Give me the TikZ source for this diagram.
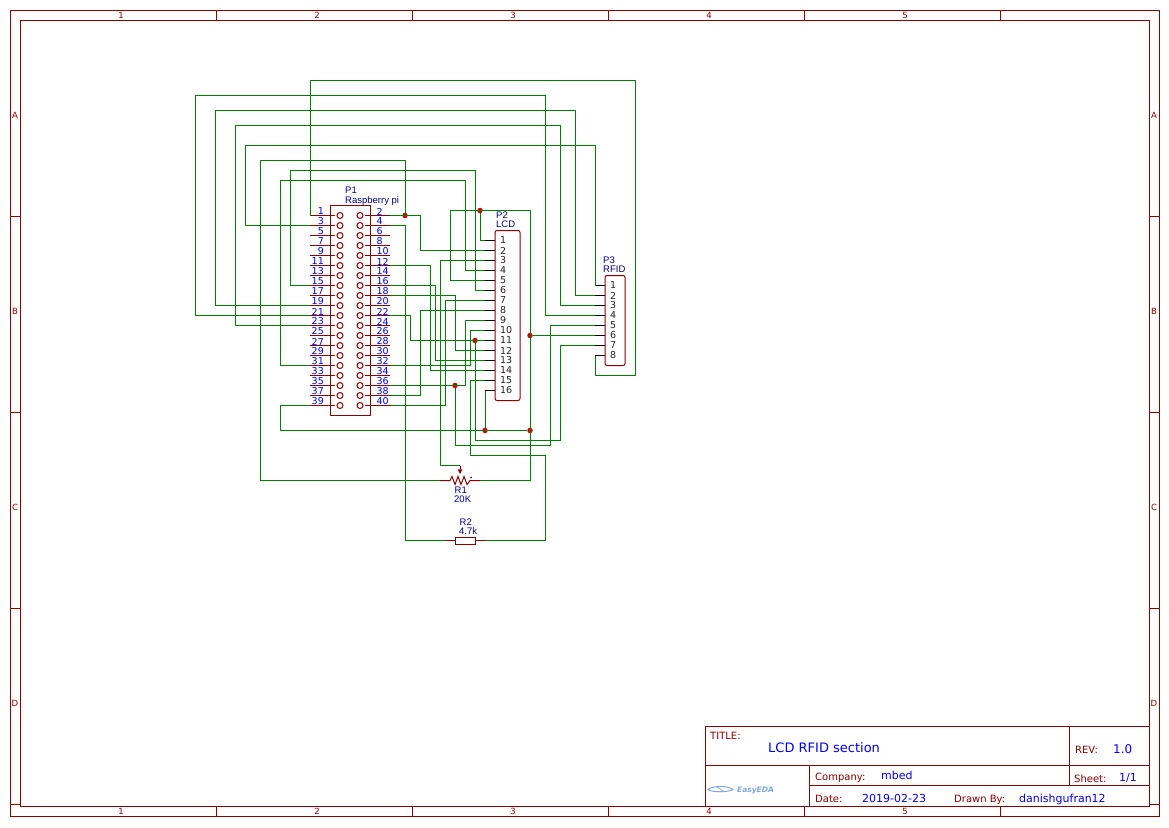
\documentclass[tikz,border=0pt]{standalone}
\usepackage{fontspec}
\setmainfont{DejaVu Sans}
\newfontfamily\labelfont{Liberation Sans}
\usetikzlibrary{arrows.meta}

\definecolor{sheetred}{HTML}{880000}
\definecolor{wiregreen}{HTML}{008000}
\definecolor{refnavy}{HTML}{000080}
\definecolor{pinblue}{HTML}{0000FF}
\definecolor{dotred}{HTML}{CC0000}
\definecolor{logoblue}{HTML}{7FA8E0}

\tikzset{
  wire/.style={draw=wiregreen,line width=1pt},
  frameline/.style={draw=sheetred,line width=1pt},
  partbox/.style={draw=sheetred,line width=1pt,rounded corners=#1},
  partbox/.default=0pt,
  pinline/.style={draw=sheetred,line width=1pt},
  blackpin/.style={draw=black,line width=1pt},
  junction/.style={circle,fill=dotred,inner sep=0pt,minimum size=5.5pt},
  refname/.style={inner sep=0pt,anchor=base west,text=refnavy,font=\labelfont\fontsize{9.5}{9.5}\selectfont},
  pinnum/.style={inner sep=0pt,text=pinblue,font=\fontsize{9.5}{9.5}\selectfont},
  blacknum/.style={inner sep=0pt,anchor=west,text=black!85,font=\fontsize{9.5}{9.5}\selectfont},
  sheetmark/.style={inner sep=0pt,text=sheetred,font=\fontsize{8.5}{8.5}\selectfont},
  blockkey/.style={inner sep=0pt,anchor=base west,text=sheetred,font=\fontsize{10}{10}\selectfont},
  blockval/.style={inner sep=0pt,anchor=base west,text=pinblue,font=\fontsize{11}{11}\selectfont},
}

% One row of the plain numbered pins on a side part.
\NewDocumentCommand{\sidepart}{mmmm}{%
\foreach \n in {1,...,#4} {
  \coordinate (#1n\n) at (#2,#3+10*\n-10);
  \draw[blackpin] (#1n\n) -- ++(10,0);
  \node[blacknum] (#1t\n) at (#2+15,#3+10*\n-10) {\n};
}%
}

\begin{document}
\begin{tikzpicture}[x=1pt,y=-1pt]
\useasboundingbox (0,-0.5) rectangle (1169,826.5);

% Sheet frame.
\draw[frameline] (10,10) rectangle (1159,816);
\draw[frameline] (20,20) rectangle (1149,806);
\foreach \x in {216,412,608,804,1000} {
  \draw[frameline] (\x,10) -- (\x,20);
  \draw[frameline] (\x,806) -- (\x,816);
}
\foreach \y in {216,412,608,804} {
  \draw[frameline] (10,\y) -- (20,\y);
  \draw[frameline] (1149,\y) -- (1159,\y);
}
\foreach \c [count=\i from 0] in {1,...,5} {
  \node[sheetmark] (top\c) at (121+196*\i,15) {\c};
  \node[sheetmark] (bot\c) at (121+196*\i,811) {\c};
}
\foreach \c [count=\i from 0] in {A,B,C,D} {
  \node[sheetmark] (lft\c) at (15,115+196*\i) {\c};
  \node[sheetmark] (rgt\c) at (1154,115+196*\i) {\c};
}

% Title block.
\draw[frameline] (705,806) -- (705,726) -- (1149,726);
\draw[frameline] (705,765) -- (1149,765);
\draw[frameline] (809,785) -- (1149,785);
\draw[frameline] (809,765) -- (809,806);
\draw[frameline] (1069,726) -- (1069,785);
\node[blockkey] (titlekey) at (710,739) {TITLE:};
\node[blockval,font=\fontsize{13}{13}\selectfont] (titleval) at (768,752) {LCD RFID section};
\node[blockkey] (revkey) at (1075,753) {REV:};
\node[blockval,font=\fontsize{12}{12}\selectfont] (revval) at (1113,753) {1.0};
\node[blockkey] (compkey) at (815,780) {Company:};
\node[blockval] (compval) at (881,779) {mbed};
\node[blockkey] (sheetkey) at (1074,782) {Sheet:};
\node[blockval] (sheetval) at (1119,781) {1/1};
\node[blockkey] (datekey) at (815,802) {Date:};
\node[blockval] (dateval) at (862,802) {2019-02-23};
\node[blockkey] (drawnkey) at (954,802) {Drawn By:};
\node[blockval] (drawnval) at (1019,802) {danishgufran12};
% Logo.
\draw[logoblue,line width=1pt] (708,789) .. controls (712,785) and (728,785) .. (733,789) .. controls (728,792) and (712,792) .. (708,789) -- cycle;
\draw[logoblue,line width=0.7pt] (716,786) -- (724,791);
\node[inner sep=0pt,anchor=base west,text=logoblue,font=\fontsize{7.5}{7.5}\selectfont\bfseries\itshape] (logotext) at (737,792) {EasyEDA};

% Named pin ends.
\foreach \i in {1,3,...,39} {
  \coordinate (p1n\i) at (310,215+5*\i-5);
  \draw[pinline] (p1n\i) -- ++(25,0);
  \draw[pinline] (340,215+5*\i-5) circle (3);
  \node[pinnum,anchor=east] (p1t\i) at (324,211+5*\i-5) {\i};
}
\foreach \i in {2,4,...,40} {
  \coordinate (p1n\i) at (390,215+5*\i-10);
  \draw[pinline] (p1n\i) -- ++(-25,0);
  \draw[pinline] (360,215+5*\i-10) circle (3);
  \node[pinnum,anchor=west] (p1t\i) at (376.5,211+5*\i-10) {\i};
}
\sidepart{p2}{485}{240}{16}
\sidepart{p3}{595}{285}{8}

% Parts.
\draw[partbox] (330,205) rectangle (370,415);
\draw[partbox=2pt] (495,230) rectangle (520,400);
\draw[partbox=2pt] (605,275) rectangle (625,365);
\node[refname] (p1name) at (345,193) {P1};
\node[refname] (p1value) at (345,203) {Raspberry pi};
\node[refname] (p2name) at (496,218) {P2};
\node[refname] (p2value) at (496,227) {LCD};
\node[refname] (p3name) at (603,263) {P3};
\node[refname] (p3value) at (603,272) {RFID};

% R1 with its wiper.
\coordinate (r1a) at (440,480);
\coordinate (r1b) at (480,480);
\coordinate (r1w) at (460,465);
\draw[pinline] (r1a) -- (450,480) -- (452,476) -- (455,484) -- (458,476) -- (461,484) -- (464,476) -- (467,484) -- (470,480) -- (r1b);
\draw[pinline] (r1w) -- (460,472);
\draw[sheetred,fill=sheetred] (458,469) -- (462,469) -- (460,473) -- cycle;
\fill[sheetred] (471,477) circle (1);
\node[refname] (r1name) at (454.5,493) {R1};
\node[refname] (r1value) at (454,502) {20K};

% R2.
\coordinate (r2a) at (445,540);
\coordinate (r2b) at (485,540);
\draw[pinline] (r2a) -- (455,540);
\draw[pinline] (475,540) -- (r2b);
\draw[partbox] (455,537) rectangle (475,544);
\node[refname] (r2name) at (459.5,525) {R2};
\node[refname] (r2value) at (459,534) {4.7k};

% Junctions.
\node[junction] (j1) at (405,215) {};
\node[junction] (j2) at (480,210) {};
\node[junction] (j3) at (530,335) {};
\node[junction] (j4) at (475,340) {};
\node[junction] (j5) at (455,385) {};
\node[junction] (j6) at (485,430) {};
\node[junction] (j7) at (530,430) {};

% Wires.
\begin{scope}[on background layer/.style={}]
\draw[wire] (p1n1) -- (310,80) -- (635,80) -- (635,375) -- (595,375) -- (p3n8);
\draw[wire] (p1n21) -- (195,315) -- (195,95) -- (545,95) -- (545,315) -- (p3n4);
\draw[wire] (p1n19) -- (215,305) -- (215,110) -- (575,110) -- (575,295) -- (p3n2);
\draw[wire] (p1n23) -- (235,325) -- (235,125) -- (560,125) -- (560,305) -- (p3n3);
\draw[wire] (p1n3) -- (245,225) -- (245,145) -- (595,145) -- (p3n1);
\draw[wire] (p1n2) -- (420,215) -- (420,250) -- (p2n2);
\draw[wire] (r1a) -- (260,480) -- (260,160) -- (405,160) -- (j1);
\draw[wire] (p1n4) -- (405,225) -- (405,540) -- (r2a);
\draw[wire] (p1n15) -- (290,285) -- (290,170) -- (475,170) -- (475,290) -- (p2n6);
\draw[wire] (p1n31) -- (280,365) -- (280,180) -- (465,180) -- (465,270) -- (p2n4);
\draw[wire] (p1n39) -- (280,405) -- (280,430) -- (j7);
\draw[wire] (p2n1) -- (480,240) -- (j2);
\draw[wire] (p2n5) -- (450,280) -- (450,210) -- (530,210) -- (530,480) -- (r1b);
\draw[wire] (p2n3) -- (440,260) -- (440,465) -- (r1w);
\draw[wire] (p1n40) -- (445,405) -- (445,300) -- (p2n7);
\draw[wire] (p1n38) -- (420,395) -- (420,310) -- (p2n8);
\draw[wire] (p1n36) -- (465,385) -- (465,320) -- (p2n9);
\draw[wire] (p1n32) -- (470,365) -- (470,330) -- (p2n10);
\draw[wire] (p1n22) -- (410,315) -- (410,340) -- (p2n11);
\draw[wire] (p1n18) -- (455,295) -- (455,350) -- (p2n12);
\draw[wire] (p1n16) -- (435,285) -- (435,360) -- (p2n13);
\draw[wire] (p1n12) -- (430,265) -- (430,370) -- (p2n14);
\draw[wire] (p2n15) -- (470,380) -- (470,455) -- (545,455) -- (545,540) -- (r2b);
\draw[wire] (p2n16) -- (j6);
\draw[wire] (j4) -- (475,440) -- (560,440) -- (560,345) -- (p3n7);
\draw[wire] (j5) -- (455,445) -- (550,445) -- (550,325) -- (p3n5);
\draw[wire] (p3n6) -- (j3);
\end{scope}

\end{tikzpicture}
\end{document}
